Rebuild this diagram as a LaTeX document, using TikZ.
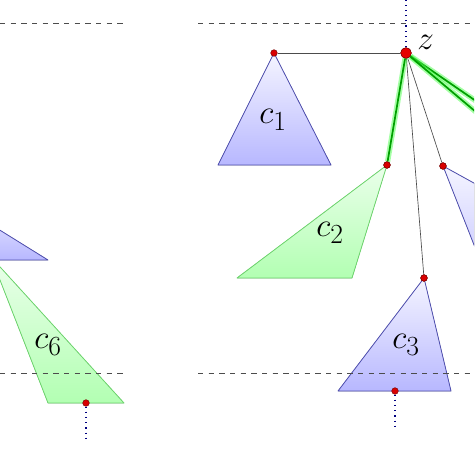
\documentclass[tikz,border=0pt]{standalone}
\usetikzlibrary{calc}
\definecolor{triblue}{RGB}{80,80,176}
\definecolor{trigreen}{RGB}{110,215,110}
\definecolor{hlgreen}{RGB}{0,160,0}
\tikzset{
  bluetri/.style={draw=triblue, line width=0.6pt, top color=blue!4, bottom color=blue!28, line join=round},
  greentri/.style={draw=trigreen, line width=0.6pt, top color=green!8, bottom color=green!30, line join=round},
  reddot/.style={circle, fill=red!85!black, draw=red!40!black, line width=0.3pt, inner sep=0pt, minimum size=5pt},
  bigdot/.style={circle, fill=red!90!black, draw=red!40!black, line width=0.3pt, inner sep=0pt, minimum size=8pt},
  treeedge/.style={draw=black!70, line width=0.5pt},
  hledge/.style={draw=hlgreen, line width=1.3pt, preaction={draw=green!70, line width=4pt, opacity=0.5}},
  levelline/.style={draw=black!70, line width=0.6pt, dash pattern=on 4pt off 4pt},
  vdots/.style={draw=blue!50!black, line width=1pt, dash pattern=on 0.9pt off 3pt},
  lab/.style={font=\Huge, inner sep=0pt}
}
\begin{document}
\begin{tikzpicture}[x=0.75pt, y=-0.75pt]
\useasboundingbox (0,0) rectangle (474,474);
\clip (0,0) rectangle (474,474);
% level lines
\draw[levelline] (0,23) -- (123,23);
\draw[levelline] (198,23) -- (474,23);
\draw[levelline] (0,373) -- (123,373);
\draw[levelline] (198,373) -- (474,373);
% left panel
\fill[bluetri] (-60,193) -- (48,260) -- (-60,260) -- cycle;
\fill[greentri] (-9,257) -- (124,403) -- (48,403) -- cycle;
\draw[levelline] (0,373) -- (123,373);
\node[reddot] (b6) at (86,403) {};
\coordinate (e6) at (86,438);
\draw[vdots] (b6) -- (e6);
\node[lab] (l6) at (48,345) {$c_6$};
% right panel triangles
\fill[bluetri] (274,53) -- (331,165) -- (218,165) -- cycle;
\fill[greentri] (387,165) -- (352,278) -- (237,278) -- cycle;
\fill[bluetri] (424,278) -- (451,391) -- (338,391) -- cycle;
\fill[bluetri] (443,166) -- (530,214) -- (500,311) -- cycle;
\draw[levelline] (198,373) -- (474,373);
\node[lab] (l1) at (273,120) {$c_1$};
\node[lab] (l2) at (330,233) {$c_2$};
\node[lab] (l3) at (406,345) {$c_3$};
% tree nodes
\node[bigdot] (z) at (406,53) {};
\node[lab, anchor=west] (zl) at (417,42) {$z$};
\node[reddot] (a1) at (274,53) {};
\node[reddot] (a2) at (387,165) {};
\node[reddot] (a3) at (424,278) {};
\node[reddot] (a4) at (443,166) {};
\node[reddot] (b3) at (395,391) {};
\coordinate (top) at (406,0);
\coordinate (e3) at (395,428);
\coordinate (c5a) at (540,145);
\coordinate (c5b) at (540,166);
% edges
\draw[vdots] (z.north) -- (top);
\draw[vdots] (b3) -- (e3);
\draw[treeedge] (a1) -- (z);
\draw[treeedge] (z) -- (a3);
\draw[treeedge] (z) -- (a4);
\draw[hledge] (z) -- (a2);
\draw[hledge] (z) -- (c5a);
\draw[hledge] (z) -- (c5b);
\node[bigdot] at (z) {};
\node[reddot] at (a2) {};
\node[reddot] at (a3) {};
\node[reddot] at (a4) {};
\end{tikzpicture}
\end{document}
